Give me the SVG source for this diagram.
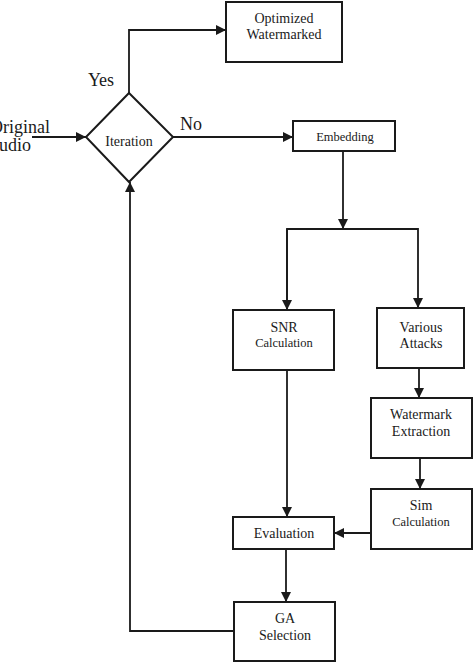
<svg xmlns="http://www.w3.org/2000/svg" width="474" height="662" viewBox="0 0 474 662">
<style>
.box{fill:#fff;stroke:#1a1a1a;stroke-width:2}
.ln{fill:none;stroke:#1a1a1a;stroke-width:1.8}
text{font-family:"Liberation Serif","Times New Roman",serif;fill:#1a1a1a;text-anchor:middle}
.t14{font-size:14px}
.t12{font-size:12.5px}
.big{font-size:18px}
</style>
<defs>
<marker id="ah" viewBox="0 0 10 10" refX="10" refY="5" markerWidth="10" markerHeight="10" markerUnits="userSpaceOnUse" orient="auto">
<path d="M0,0 L10,5 L0,10 Z" fill="#1a1a1a"/>
</marker>
</defs>
<rect width="474" height="662" fill="#fff"/>
<g id="connectors">
<path class="ln" d="M32,137 H86" marker-end="url(#ah)"/>
<path class="ln" d="M129,93 V30 H226" marker-end="url(#ah)"/>
<path class="ln" d="M173,137 H293" marker-end="url(#ah)"/>
<path class="ln" d="M343,151 V229" marker-end="url(#ah)"/>
<path class="ln" d="M287,310 V229 H418 V308" marker-end="url(#ah)"/>
<path class="ln" d="M287,229 V310" marker-end="url(#ah)"/>
<path class="ln" d="M419,368 V398" marker-end="url(#ah)"/>
<path class="ln" d="M420,458 V489" marker-end="url(#ah)"/>
<path class="ln" d="M371,533 H334" marker-end="url(#ah)"/>
<path class="ln" d="M287,370 V517" marker-end="url(#ah)"/>
<path class="ln" d="M286,549 V602" marker-end="url(#ah)"/>
<path class="ln" d="M234,631 H130 V182" marker-end="url(#ah)"/>
</g>
<g id="input">
<text class="big" x="50" y="133" style="text-anchor:end">Original</text>
<text class="big" x="31" y="151" style="text-anchor:end">Audio</text>
</g>
<g id="iteration">
<path class="box" d="M129,93 L173,137 L129,182 L86,137 Z"/>
<text class="t14" x="129" y="146">Iteration</text>
</g>
<g id="labels">
<text class="big" x="101" y="86">Yes</text>
<text class="big" x="191" y="130">No</text>
</g>
<g id="optimized">
<rect class="box" x="226" y="2" width="116" height="60"/>
<text class="t14" x="284" y="23">Optimized</text>
<text class="t14" x="284" y="39">Watermarked</text>
</g>
<g id="embedding">
<rect class="box" x="293" y="121" width="102" height="30"/>
<text class="t12" x="345" y="141">Embedding</text>
</g>
<g id="snr">
<rect class="box" x="233" y="310" width="101" height="60"/>
<text class="t14" x="284" y="332">SNR</text>
<text class="t12" x="284" y="347">Calculation</text>
</g>
<g id="attacks">
<rect class="box" x="377" y="308" width="87" height="60"/>
<text class="t14" x="421" y="332">Various</text>
<text class="t14" x="421" y="348">Attacks</text>
</g>
<g id="extraction">
<rect class="box" x="371" y="398" width="101" height="60"/>
<text class="t14" x="421" y="419">Watermark</text>
<text class="t14" x="421" y="436">Extraction</text>
</g>
<g id="sim">
<rect class="box" x="371" y="489" width="101" height="60"/>
<text class="t14" x="421" y="510">Sim</text>
<text class="t12" x="421" y="526">Calculation</text>
</g>
<g id="evaluation">
<rect class="box" x="233" y="517" width="101" height="32"/>
<text class="t14" x="284" y="538">Evaluation</text>
</g>
<g id="ga">
<rect class="box" x="234" y="602" width="101" height="59"/>
<text class="t14" x="285" y="623">GA</text>
<text class="t14" x="285" y="640">Selection</text>
</g>
</svg>
